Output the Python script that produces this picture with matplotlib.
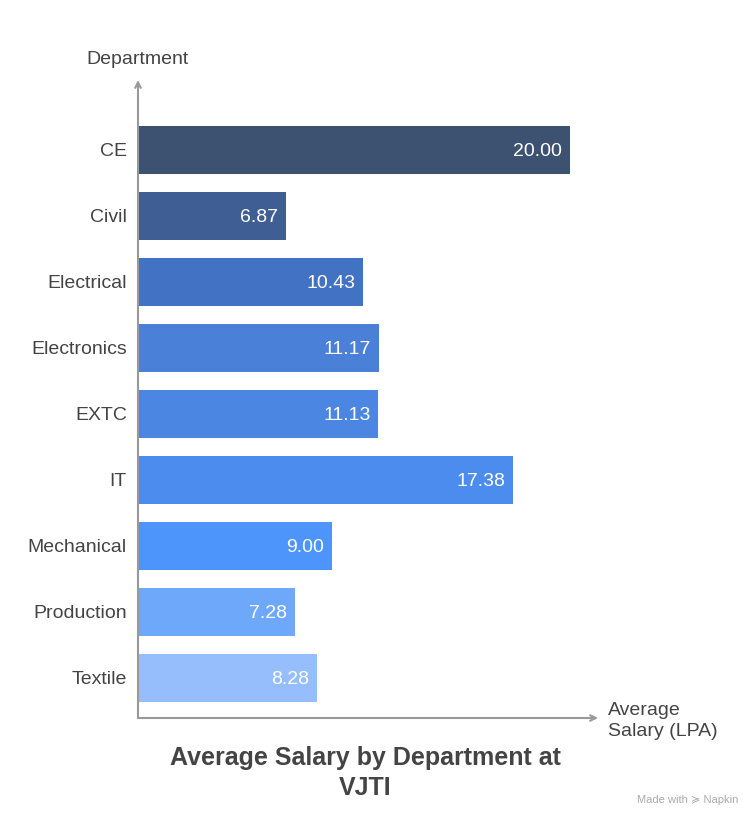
import matplotlib
import matplotlib.pyplot as plt

matplotlib.use("Agg")

departments = ["CE", "Civil", "Electrical", "Electronics", "EXTC", "IT",
               "Mechanical", "Production", "Textile"]
salaries = [20.00, 6.87, 10.43, 11.17, 11.13, 17.38, 9.00, 7.28, 8.28]
colors = ["#3d5170", "#3f5e93", "#4272c3", "#4a80d8", "#4a86e2",
          "#4b8cee", "#4d94fb", "#6ea8fb", "#96befd"]


def main():
    plt.rcParams["font.family"] = ["Liberation Sans", "DejaVu Sans"]
    fig = plt.figure(figsize=(7.5, 8.16), dpi=100)
    ax = fig.add_axes([138 / 750, 1 - 718 / 816, 460 / 750, 638 / 816])

    ypos = list(range(len(departments)))
    ax.barh(ypos, salaries, height=48 / 66, color=colors)
    for y, v in zip(ypos, salaries):
        ax.text(v - 0.37, y, f"{v:.2f}", ha="right", va="center_baseline",
                color="white", fontsize=14)

    ax.set_xlim(0, 460 / 21.6)
    ax.set_ylim(8 + 40 / 66, -70 / 66)
    ax.set_yticks(ypos)
    ax.set_yticklabels(departments, fontsize=14, color="#444444",
                       va="center_baseline")
    ax.tick_params(axis="y", length=0, pad=8)
    ax.set_xticks([])
    for s in ax.spines.values():
        s.set_visible(False)

    # axis arrows
    arrow = dict(arrowstyle="->", color="#999999", lw=1.5,
                 shrinkA=0, shrinkB=0)
    ax.annotate("", xy=(0, -70 / 66), xytext=(0, 8 + 40 / 66),
                arrowprops=arrow, annotation_clip=False)
    ax.annotate("", xy=(460 / 21.6, 8 + 40 / 66), xytext=(0, 8 + 40 / 66),
                arrowprops=arrow, annotation_clip=False)

    fig.text(138 / 750, 1 - 60 / 816, "Department", ha="center",
             va="center", fontsize=14, color="#444444")
    fig.text(608 / 750, 1 - 721 / 816, "Average\nSalary (LPA)", ha="left",
             va="center", fontsize=14, color="#444444", linespacing=1.35)
    fig.text(365 / 750, 1 - 773 / 816,
             "Average Salary by Department at\nVJTI", ha="center",
             va="center", fontsize=18, fontweight="bold", color="#444444",
             linespacing=1.3)
    fig.text(738 / 750, 1 - 800 / 816, "Made with \u227d Napkin",
             ha="right", va="center", fontsize=8, color="#aaaaaa")

    fig.savefig("out.png", dpi=100)
    return 0


if __name__ == "__main__":
    main()
